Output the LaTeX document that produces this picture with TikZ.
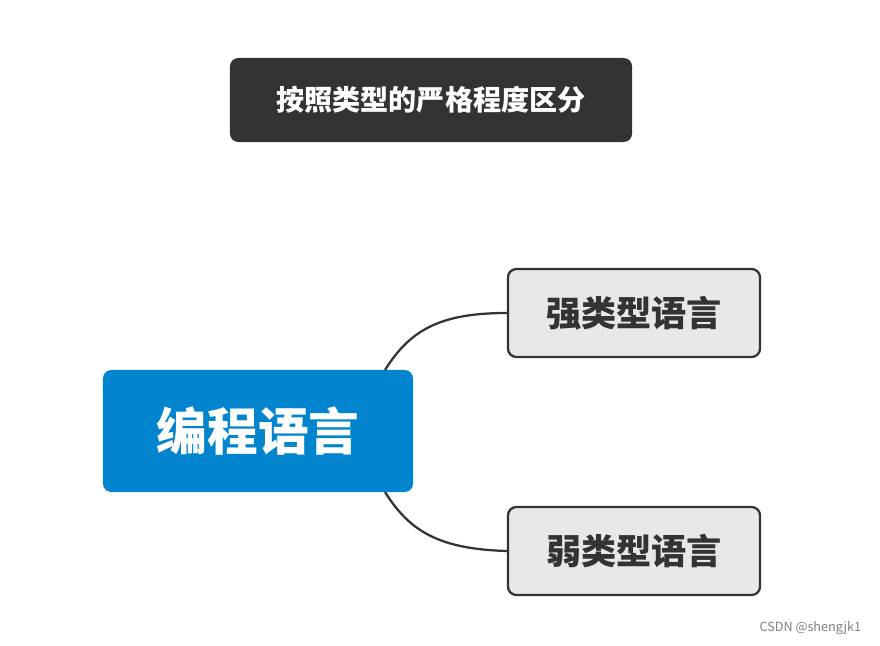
\documentclass[tikz,border=0pt]{standalone}
\usepackage{fontspec}
\setmainfont{Noto Sans CJK SC}
\usetikzlibrary{positioning}
\definecolor{darkbox}{RGB}{51,51,51}
\definecolor{mainblue}{RGB}{2,132,206}
\definecolor{lightbox}{RGB}{232,232,232}
\tikzset{
  titlebox/.style={rectangle, rounded corners=6pt, fill=darkbox, text=white, font=\bfseries\fontsize{20}{24}\selectfont, minimum width=10.05cm, minimum height=2.1cm},
  rootbox/.style={rectangle, rounded corners=6pt, fill=mainblue, text=white, font=\bfseries\fontsize{36}{42}\selectfont, minimum width=7.75cm, minimum height=3.05cm},
  leafbox/.style={rectangle, rounded corners=6pt, fill=lightbox, draw=darkbox, line width=1.6pt, text=darkbox, font=\bfseries\fontsize{25}{30}\selectfont, minimum width=6.3cm, minimum height=2.2cm},
  link/.style={draw=darkbox, line width=1.6pt}
}
\begin{document}
\begin{tikzpicture}[x=0.025cm, y=-0.025cm]
\useasboundingbox (0,0) rectangle (880,645);

\node (title) [titlebox] at (431,100) {按照类型的严格程度区分};
\node (root) [rootbox] at (258,431) {编程语言};
\node (strong) [leafbox] at (634,313) {强类型语言};
\node (weak) [leafbox] at (634,551) {弱类型语言};

\coordinate (roottop) at (385,370);
\coordinate (rootbot) at (385,492);
\draw [link] (roottop) .. controls (410,330) and (440,313) .. (strong.west);
\draw [link] (rootbot) .. controls (410,532) and (440,549) .. (weak.west);

\node (mark) [text=gray, font=\fontsize{9}{10}\selectfont, anchor=east] at (866,628) {CSDN @shengjk1};
\end{tikzpicture}
\end{document}
